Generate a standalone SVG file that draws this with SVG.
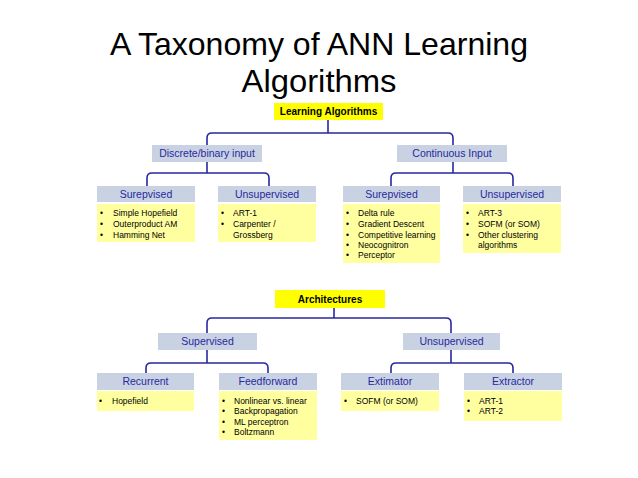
<svg xmlns="http://www.w3.org/2000/svg" width="638" height="478" viewBox="0 0 638 478">
<style>
text{font-family:"Liberation Sans",Arial,sans-serif}
.title{font-size:32px;fill:#000;text-anchor:middle}
.root rect{fill:#ffff00}
.root text{font-size:10px;font-weight:bold;text-anchor:middle;fill:#000}
.hdr rect{fill:#c8d2e2}
.hdr text{font-size:10.5px;fill:#2828a0;text-anchor:middle}
.lst rect{fill:#ffffa0}
.lst text{font-size:8.5px;fill:#000}
.conn path{fill:none;stroke:#2828a0;stroke-width:1.6}
</style>
<text class="title" x="319" y="55" textLength="418" lengthAdjust="spacingAndGlyphs">A Taxonomy of ANN Learning</text>
<text class="title" x="319" y="92" textLength="155" lengthAdjust="spacingAndGlyphs">Algorithms</text>
<g class="conn">
<path d="M328 120V133M207 145V138Q207 133 212 133H448Q453 133 453 138V145"/>
<path d="M207 162V173M147 186V178Q147 173 152 173H264Q269 173 269 178V186"/>
<path d="M453 162V173M391 186V178Q391 173 396 173H508Q513 173 513 178V186"/>
<path d="M334 308V318M207 333V323Q207 318 212 318H446Q451 318 451 323V333"/>
<path d="M207 350V363M146 373V368Q146 363 151 363H263Q268 363 268 368V373"/>
<path d="M451 350V363M391 373V368Q391 363 396 363H508Q513 363 513 368V373"/>
</g>
<g id="root1" class="root"><rect x="274" y="103" width="109" height="17"/><text x="328.5" y="115">Learning Algorithms</text></g>
<g id="discrete" class="hdr"><rect x="152" y="145" width="110" height="17"/><text x="207" y="157">Discrete/binary input</text></g>
<g id="continuous" class="hdr"><rect x="397" y="145" width="110" height="17"/><text x="452" y="157">Continuous Input</text></g>
<g id="sup1" class="hdr"><rect x="97" y="186" width="98" height="16"/><text x="146" y="198">Surepvised</text></g>
<g id="uns1" class="hdr"><rect x="218" y="186" width="98" height="16"/><text x="267" y="198">Unsupervised</text></g>
<g id="sup2" class="hdr"><rect x="343" y="186" width="97" height="16"/><text x="391.5" y="198">Surepvised</text></g>
<g id="uns2" class="hdr"><rect x="463" y="186" width="98" height="16"/><text x="512" y="198">Unsupervised</text></g>
<g id="l1" class="lst"><rect x="97" y="204" width="98" height="38"/>
<text x="100" y="216">•<tspan x="113">Simple Hopefield</tspan></text>
<text x="100" y="227">•<tspan x="113">Outerproduct AM</tspan></text>
<text x="100" y="238">•<tspan x="113">Hamming Net</tspan></text></g>
<g id="l2" class="lst"><rect x="218" y="204" width="98" height="38"/>
<text x="221" y="216">•<tspan x="233">ART-1</tspan></text>
<text x="221" y="227">•<tspan x="233">Carpenter /</tspan></text>
<text x="233" y="238">Grossberg</text></g>
<g id="l3" class="lst"><rect x="343" y="204" width="97" height="59"/>
<text x="346" y="216">•<tspan x="358">Delta rule</tspan></text>
<text x="346" y="227">•<tspan x="358">Gradient Descent</tspan></text>
<text x="346" y="238">•<tspan x="358">Competitive learning</tspan></text>
<text x="346" y="248">•<tspan x="358">Neocognitron</tspan></text>
<text x="346" y="258">•<tspan x="358">Perceptor</tspan></text></g>
<g id="l4" class="lst"><rect x="463" y="204" width="98" height="49"/>
<text x="466" y="216">•<tspan x="478">ART-3</tspan></text>
<text x="466" y="227">•<tspan x="478">SOFM (or SOM)</tspan></text>
<text x="466" y="238">•<tspan x="478">Other clustering</tspan></text>
<text x="478" y="248">algorithms</text></g>
<g id="root2" class="root"><rect x="275" y="290" width="110" height="18"/><text x="330" y="302.5">Architectures</text></g>
<g id="supervised" class="hdr"><rect x="158" y="333" width="99" height="17"/><text x="207.5" y="345">Supervised</text></g>
<g id="unsupervised" class="hdr"><rect x="403" y="333" width="97" height="17"/><text x="451.5" y="345">Unsupervised</text></g>
<g id="recurrent" class="hdr"><rect x="97" y="373" width="97" height="17"/><text x="145.5" y="385">Recurrent</text></g>
<g id="feedforward" class="hdr"><rect x="219" y="373" width="98" height="17"/><text x="268" y="385">Feedforward</text></g>
<g id="extimator" class="hdr"><rect x="341" y="373" width="98" height="17"/><text x="390" y="385">Extimator</text></g>
<g id="extractor" class="hdr"><rect x="464" y="373" width="98" height="17"/><text x="513" y="385">Extractor</text></g>
<g id="l5" class="lst"><rect x="97" y="391" width="97" height="20"/>
<text x="99" y="404">•<tspan x="112">Hopefield</tspan></text></g>
<g id="l6" class="lst"><rect x="219" y="391" width="98" height="49"/>
<text x="222" y="404">•<tspan x="234">Nonlinear vs. linear</tspan></text>
<text x="222" y="414">•<tspan x="234">Backpropagation</tspan></text>
<text x="222" y="425">•<tspan x="234">ML perceptron</tspan></text>
<text x="222" y="435">•<tspan x="234">Boltzmann</tspan></text></g>
<g id="l7" class="lst"><rect x="341" y="391" width="98" height="20"/>
<text x="344" y="404">•<tspan x="356">SOFM (or SOM)</tspan></text></g>
<g id="l8" class="lst"><rect x="464" y="391" width="98" height="30"/>
<text x="467" y="404">•<tspan x="479">ART-1</tspan></text>
<text x="467" y="414">•<tspan x="479">ART-2</tspan></text></g>
</svg>
